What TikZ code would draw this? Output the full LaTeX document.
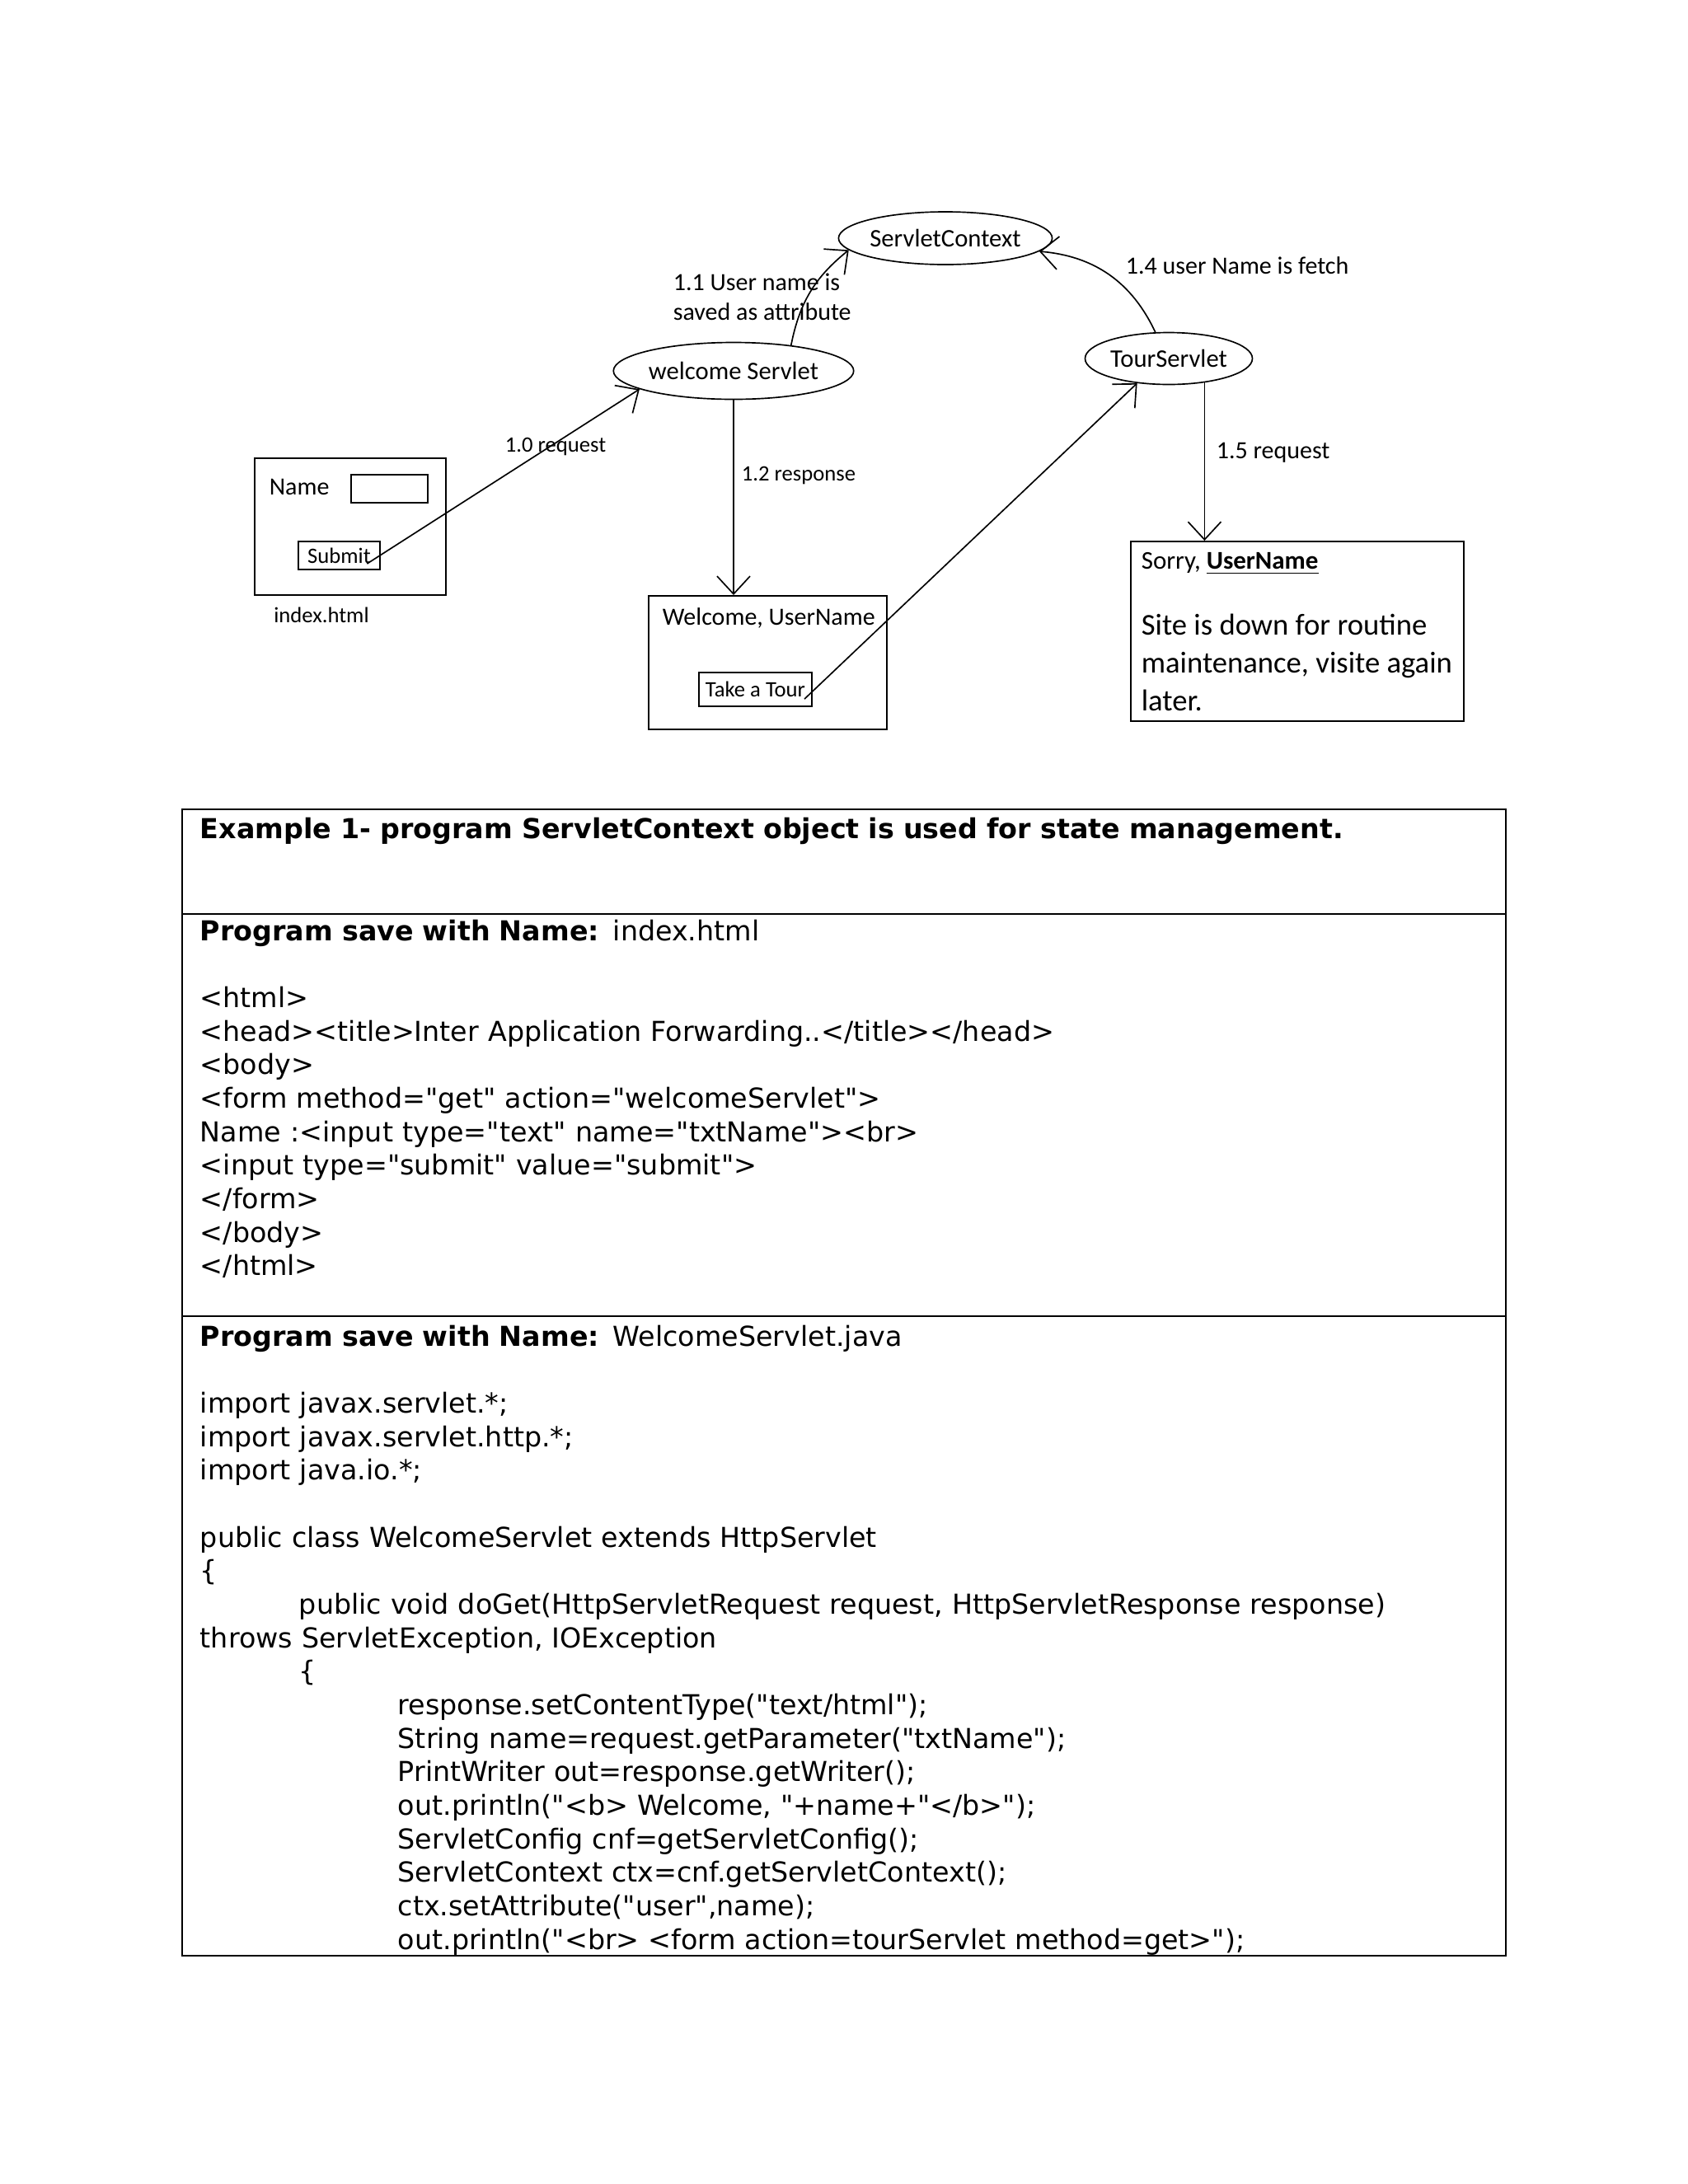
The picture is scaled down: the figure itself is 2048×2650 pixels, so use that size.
\documentclass[tikz,border=0pt]{standalone}
\usepackage{fontspec}
\usepackage{tikz}
\usetikzlibrary{shapes,positioning,arrows.meta}
\newfontfamily\diagfont{Carlito}
\newfontfamily\codefont{DejaVu Sans}
\tikzset{ell/.style={ellipse,draw,inner sep=0pt,font=\diagfont\fontsize{9.2}{11}\selectfont},
         box/.style={rectangle,draw,line width=0.6pt,inner sep=0pt},
         btn/.style={rectangle,draw,line width=0.6pt,inner sep=0pt,font=\diagfont\fontsize{8}{9.6}\selectfont},
         lbl/.style={inner sep=0pt,anchor=west,font=\diagfont\fontsize{9}{10.8}\selectfont},
         lbls/.style={lbl,font=\diagfont\fontsize{8}{9.6}\selectfont},
         lblb/.style={lbl,align=left,font=\diagfont\fontsize{11}{13.7}\selectfont},
         code/.style={inner sep=0pt,anchor=base west,align=left,text width=470pt,
                      font=\codefont\fontsize{10}{12.2}\selectfont}}

\begin{document}
\begin{tikzpicture}[x=0.3pt,y=-0.3pt,>={Straight Barb[length=6.5pt,width=12pt]},line width=0.5pt]
    \useasboundingbox (0,0) rectangle (2048,2650);
    % servlets
    \node[ell,minimum width=75.9pt,minimum height=19.2pt] (sc) at (1147,289) {ServletContext};
    \node[ell,minimum width=85.8pt,minimum height=20.7pt] (ws) at (890,450) {welcome Servlet};
    \node[ell,minimum width=60.9pt,minimum height=18.9pt] (ts) at (1418,435) {TourServlet};
    % pages
    \node[box,minimum width=69.6pt,minimum height=49.8pt] (idx) at (425,639) {};
    \node[box,minimum width=27.9pt,minimum height=10.2pt] (fld) at (472.5,593) {};
    \node[btn,minimum width=29.7pt,minimum height=10.2pt] (sub) at (411.5,674) {Submit};
    \node[box,minimum width=86.7pt,minimum height=48.6pt] (wb) at (931.5,804) {};
    \node[btn,minimum width=41.1pt,minimum height=12.3pt] (tour) at (916.5,836.5) {Take a Tour};
    \node[box,minimum width=121.2pt,minimum height=65.4pt] (sb) at (1574,766) {};
    \node[lbl] (nm) at (326,591) {Name};
    \node[lbls,anchor=center] (idxl) at (390,746) {index.html};
    \node[lbl] (wl) at (803,750) {Welcome, UserName};
    \node[lbl,font=\diagfont\fontsize{9.3}{11}\selectfont] (sorry) at (1384,684) {Sorry, \textbf{\underline{UserName}}};
    \node[lblb] (down) at (1384,804) {Site is down for routine\\maintenance, visite again\\later.};
    % labels
    \node[lbl,align=left] (l11) at (816,360) {1.1 User name is\\saved as attribute};
    \node[lbls] (l10) at (612,542) {1.0 request};
    \node[lbls] (l12) at (899,577) {1.2 response};
    \node[lbl] (l14) at (1365,322) {1.4 user Name is fetch};
    \node[lbl] (l15) at (1475,549) {1.5 request};
    % flow
    \draw [->] ([xshift=-5pt,yshift=-3pt]sub.east) -- (ws.191);
    \draw [->] (ws.24) to[bend left=20] (sc.187);
    \draw [->] (ws.south) -- (ws.south |- wb.north);
    \draw [->] ([xshift=-3pt,yshift=-3.5pt]tour.east) -- (ts.218);
    \draw [->] (ts.117) to[bend right=30] (sc.-8);
    \draw [->] (ts.-34) -- (ts.-34 |- sb.north);
    % table
    \draw[line width=0.8pt] (221,982) rectangle (1827,2373);
    \draw[line width=0.8pt] (221,1109) -- (1827,1109);
    \draw[line width=0.8pt] (221,1597) -- (1827,1597);
    \node[code,font=\codefont\bfseries\fontsize{10}{12.2}\selectfont] (ttl) at (242,1017)
        {Example 1- program ServletContext object is used for state management.};
    \node[code] (html) at (242,1141) {\textbf{Program save with Name:} index.html\\[\baselineskip]
<html>\\
<head><title>Inter Application Forwarding..</title></head>\\
<body>\\
<form method="get" action="welcomeServlet">\\
Name :<input type="text" name="txtName"><br>\\
<input type="submit" value="submit">\\
</form>\\
</body>\\
</html>};
    \node[code] (java) at (242,1633) {\textbf{Program save with Name:} WelcomeServlet.java\\[\baselineskip]
import javax.servlet.*;\\
import javax.servlet.http.*;\\
import java.io.*;\\[\baselineskip]
public class WelcomeServlet extends HttpServlet\\
\{\\
\hspace*{36pt}public void doGet(HttpServletRequest request, HttpServletResponse response)\\
throws ServletException, IOException\\
\hspace*{36pt}\{\\
\hspace*{72pt}response.setContentType("text/html");\\
\hspace*{72pt}String name=request.getParameter("txtName");\\
\hspace*{72pt}PrintWriter out=response.getWriter();\\
\hspace*{72pt}out.println("<b> Welcome, "+name+"</b>");\\
\hspace*{72pt}ServletConfig cnf=getServletConfig();\\
\hspace*{72pt}ServletContext ctx=cnf.getServletContext();\\
\hspace*{72pt}ctx.setAttribute("user",name);\\
\hspace*{72pt}out.println("<br> <form action=tourServlet method=get>");};
\end{tikzpicture}
\end{document}
